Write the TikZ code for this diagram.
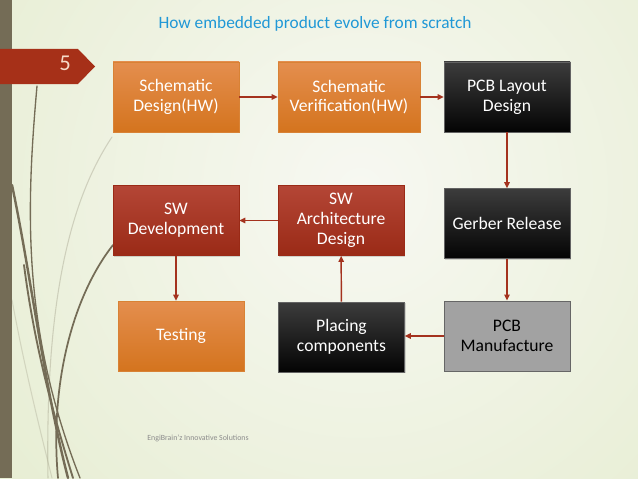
\documentclass[tikz,border=0pt]{standalone}
\usepackage{fontspec}
\setmainfont{Carlito}
\usetikzlibrary{arrows.meta,shadows}

\definecolor{stripgrey}{RGB}{116,108,86}
\definecolor{tabred}{RGB}{166,48,24}
\definecolor{tabtext}{RGB}{246,218,200}
\definecolor{titleblue}{RGB}{32,152,214}
\definecolor{arrowred}{RGB}{164,50,30}
\definecolor{orgtop}{RGB}{228,142,78}
\definecolor{orgbot}{RGB}{212,116,30}
\definecolor{redtop}{RGB}{180,70,54}
\definecolor{redbot}{RGB}{154,42,22}
\definecolor{blktop}{RGB}{60,60,60}
\definecolor{blkbot}{RGB}{4,4,4}
\definecolor{pcbgrey}{RGB}{162,162,162}
\definecolor{bginner}{RGB}{247,248,242}
\definecolor{bgouter}{RGB}{216,228,182}

\tikzset{every picture/.style={line width=0.75pt}}
\tikzset{
  box/.style={rectangle, minimum width=94.5pt, minimum height=52.5pt, inner sep=2pt,
    align=center, text=white, font=\fontsize{13.2}{14.8}\selectfont,
    drop shadow={shadow xshift=1pt, shadow yshift=-1pt, opacity=0.3}},
  orangebox/.style={box, top color=orgtop, bottom color=orgbot, draw=orgbot!90!white, line width=0.4pt},
  redbox/.style={box, top color=redtop, bottom color=redbot, draw=redbot, line width=0.4pt},
  blackbox/.style={box, top color=blktop, bottom color=blkbot, draw=blktop!80!white, line width=0.4pt},
  greybox/.style={box, fill=pcbgrey, draw=black!60, line width=0.6pt, text=black},
  flow/.style={-{Triangle[length=4.5pt,width=4pt]}, draw=arrowred, line width=1.1pt},
  swoosh/.style={draw=stripgrey, line cap=round},
}

\begin{document}
\begin{tikzpicture}[x=0.75pt,y=0.75pt,yscale=-1,xscale=1]

\useasboundingbox (0,0) rectangle (638,478);

% background
\begin{scope}
\clip (0,0) rectangle (638,478);
\shade[inner color=bginner, outer color=bgouter] (360,190) circle (900);
\end{scope}
\fill[stripgrey] (0,0) rectangle (12,478);

% swooshes on the left
\draw[swoosh, opacity=.25, line width=0.8pt] (112,137) .. controls (70,200) and (45,300) .. (48,478);
\draw[swoosh, opacity=.2, line width=0.8pt] (12,300) .. controls (25,370) and (40,430) .. (52,478);
\draw[swoosh, line width=1pt] (37,86) .. controls (26,210) and (22,330) .. (80,478);
\draw[swoosh, line width=1.8pt] (12,185) .. controls (30,270) and (45,390) .. (68,478);
\draw[swoosh, line width=1.4pt] (24,265) .. controls (35,350) and (55,420) .. (73,478);
\draw[swoosh, line width=1.3pt] (113,245) .. controls (70,300) and (50,390) .. (58,478);

% slide number tab
\fill[tabred] (0,49) -- (78,49) -- (95,66.5) -- (78,84) -- (0,84) -- cycle;
\node[text=tabtext, font=\fontsize{17}{19}\selectfont] (num) at (65,63) {5};

% title
\node[text=titleblue, font=\fontsize{13}{15}\selectfont] (title) at (315,24) {How embedded product evolve from scratch};

% boxes
\node[orangebox] (schdes) at (176,97) {Schematic\\Design(HW)};
\node[orangebox, minimum width=106.5pt] (schver) at (349,97) {Schematic\\Verification(HW)};
\node[blackbox] (pcblay) at (507,97) {PCB Layout\\Design};
\node[redbox] (swdev) at (176,220.5) {SW\\Development};
\node[redbox] (swarch) at (341,220.5) {SW\\Architecture\\Design};
\node[blackbox] (gerber) at (507,223.5) {Gerber Release};
\node[orangebox] (testing) at (181,336) {Testing};
\node[blackbox] (placing) at (341.5,337) {Placing\\components};
\node[greybox] (pcbman) at (507,336) {PCB\\Manufacture};

% flow
\draw[flow] (schdes) -- (schver);
\draw[flow] (schver) -- (pcblay);
\draw[flow] (pcblay) -- (gerber);
\draw[flow] (gerber) -- (pcbman);
\draw[flow] (pcbman.west) -- (placing.east |- pcbman.west);
\draw[flow] (placing) -- (swarch);
\draw[flow] (swarch) -- (swdev);
\draw[flow] (swdev.south) -- (swdev.south |- testing.north);

% footer
\node[text=black!45, font=\fontsize{5.9}{7}\selectfont] (footer) at (198,438) {EngiBrain'z Innovative Solutions};

\end{tikzpicture}
\end{document}
